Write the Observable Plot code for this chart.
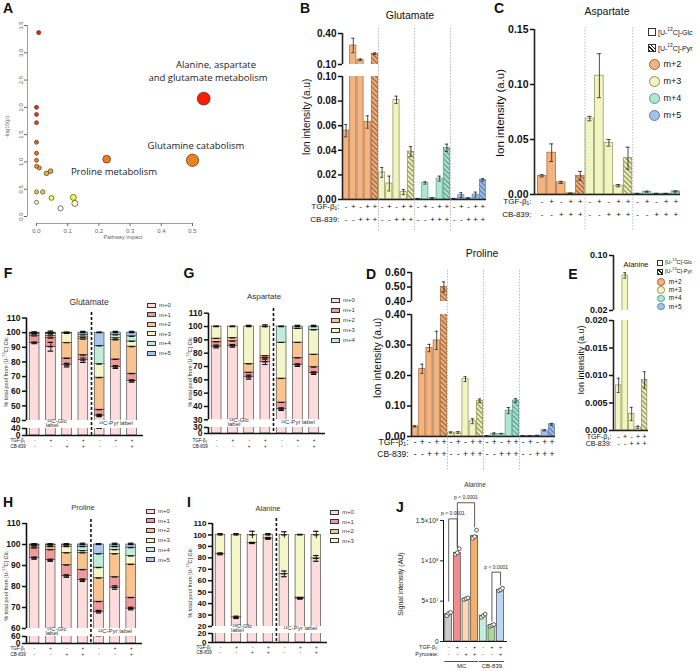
<!DOCTYPE html>
<html lang="en">
<head>
<meta charset="utf-8">
<title>Isotope tracing: glutamate, aspartate, proline and alanine</title>
<script src="https://cdn.jsdelivr.net/npm/d3@7"></script>
<script src="https://cdn.jsdelivr.net/npm/@observablehq/plot@0.6"></script>
<style>
  html, body { margin: 0; padding: 0; background: #fff; }
  #fig { position: relative; width: 700px; height: 671px; overflow: hidden; background: #fff;
         font-family: "Liberation Sans", Arial, sans-serif; color: #111; }
  #fig .t { position: absolute; white-space: nowrap; line-height: 1; }
  #fig .t sup, #fig .t sub { font-size: 0.68em; line-height: 0; }
  #fig .sw { position: absolute; box-sizing: border-box; }
  #fig svg.thick g[aria-label^="y-axis"] line,
  #fig svg.thick g[aria-label^="y-axis"] path { stroke-width: 1.5px; }
</style>
</head>
<body>
<div id="fig"></div>
<script>
// ---------------- data ----------------

// A: pathway analysis (impact vs -log10 p)
const pathwayImpact = [0.007, 0, 0, 0, 0, 0, 0, 0, 0.009, 0.032, 0.045, 0, 0.020, 0.048, 0, 0.077, 0.118, 0.123, 0.225, 0.500, 0.536];
const pathwayLogP   = [3.37, 2.00, 1.87, 1.72, 1.36, 1.16, 1.03, 0.92, 0.89, 0.79, 0.83, 0.45, 0.45, 0.34, 0.26, 0.15, 0.35, 0.24, 1.05, 1.03, 2.16];
const impactTicks = [0, 0.1, 0.2, 0.3, 0.4, 0.5];
const logPTicks = [0, 0.5, 1, 1.5, 2, 2.5, 3, 3.5];

// B–E: ion intensities; one row per isotopologue, one column per condition
const ionTGF    = ["-", "+", "-", "+", "+"];
const ionCB     = ["-", "-", "+", "+", "+"];
const ionTracer = ["Glc", "Glc", "Glc", "Glc", "Pyr"];

const glutamateIsos = ["m+2", "m+3", "m+4", "m+5"];
const glutamateIon = [
  [0.056, 0.284, 0.146, 0.063, 0.204],
  [0.022, 0.013, 0.081, 0.006, 0.039],
  [0.0006, 0.0135, 0.0012, 0.017, 0.042],
  [0.0006, 0.0035, 0.0010, 0.0040, 0.016]
];
const glutamateIonSd = [
  [0.005, 0.07, 0.008, 0.005, 0.008],
  [0.004, 0.006, 0.003, 0.002, 0.004],
  [0.0002, 0.001, 0.0003, 0.002, 0.003],
  [0.0002, 0.002, 0.0003, 0.002, 0.001]
];
const glutamateTicksLow = [0, 0.02, 0.04, 0.06, 0.08, 0.1];
const glutamateTicksHigh = [0.1, 0.4];

const aspartateIsos = ["m+2", "m+3", "m+4"];
const aspartateIon = [
  [0.017, 0.038, 0.011, 0.001, 0.017],
  [0.069, 0.108, 0.047, 0.008, 0.033],
  [0.0008, 0.0025, 0.0008, 0.0008, 0.0028]
];
const aspartateIonSd = [
  [0.001, 0.008, 0.001, 0.0003, 0.004],
  [0.002, 0.020, 0.003, 0.001, 0.010],
  [0.0002, 0.0005, 0.0002, 0.0002, 0.0005]
];
const aspartateTicks = [0, 0.05, 0.1, 0.15];

const prolineIsos = ["m+2", "m+3", "m+4", "m+5"];
const prolineIon = [
  [0.033, 0.222, 0.290, 0.315, 0.500],
  [0.013, 0.013, 0.188, 0.050, 0.117],
  [0.002, 0.009, 0.009, 0.085, 0.118],
  [0.002, 0.002, 0.003, 0.020, 0.040]
];
const prolineIonSd = [
  [0.002, 0.015, 0.012, 0.030, 0.035],
  [0.002, 0.003, 0.008, 0.008, 0.006],
  [0.001, 0.003, 0.001, 0.010, 0.006],
  [0.0005, 0.0005, 0.0005, 0.002, 0.003]
];
const prolineTicksLow = [0, 0.1, 0.2, 0.3, 0.4];
const prolineTicksHigh = [0.4, 0.5, 0.6];

const alanineIsos = ["m+3"];
const alanineIon = [[0.0082, 0.071, 0.0030, 0.0006, 0.0092]];
const alanineIonSd = [[0.0013, 0.004, 0.0012, 0.0002, 0.0015]];
const alanineTicksLow = [0, 0.005, 0.01, 0.015, 0.02];
const alanineTicksHigh = [0.02, 0.1];

// F–I: % of total pool per isotopologue (m+0 … m+5), seven conditions
const stackTGF = ["-", "+", "-", "+", "-", "+", "+"];
const stackCB  = ["-", "-", "+", "+", "-", "-", "+"];
const glcBars = [0, 1, 2, 3];
const pyrBars = [4, 5, 6];

const glutamateFrac = [
  [93.0, 90.4, 77.8, 81.2, 43.4, 76.5, 67.0],
  [4.7, 5.8, 4.6, 3.5, 4.0, 5.2, 5.0],
  [1.2, 1.5, 10.7, 10.8, 21.9, 13.3, 18.5],
  [0.6, 1.3, 6.4, 1.3, 9.2, 1.2, 3.5],
  [0.3, 0.6, 0.3, 1.6, 12.4, 2.2, 3.5],
  [0.2, 0.4, 0.2, 1.6, 9.1, 1.6, 2.5]
];
const glutamateErr0 = [0.6, 3.0, 1.2, 1.5, 0.8, 1.0, 0.8];
const glutamateErrTop = [0.5, 1.0, 0.4, 0.8, 0.3, 0.8, 0.8];
const glutamatePctTicks = [40, 50, 60, 70, 80, 90, 100, 110];

const aspartateFrac = [
  [85.0, 85.5, 62.0, 73.5, 38.0, 71.0, 65.0],
  [3.5, 3.5, 3.5, 3.0, 5.0, 5.5, 4.5],
  [2.5, 2.5, 6.5, 1.5, 18.0, 11.5, 9.5],
  [9.0, 8.5, 28.0, 22.0, 27.0, 10.5, 18.5],
  [0, 0, 0, 0, 12.0, 1.5, 2.5]
];
const aspartateErr0 = [1.0, 1.0, 1.5, 2.0, 1.0, 1.0, 1.0];
const aspartateErrTop = [0.4, 0.4, 0.8, 1.2, 0.3, 0.8, 0.8];
const aspartatePctTicks = [30, 40, 50, 60, 70, 80, 90, 100, 110];

const prolineFrac = [
  [93.5, 92.5, 85.0, 83.0, 68.0, 79.5, 69.5],
  [4.8, 5.0, 5.2, 5.0, 4.8, 5.0, 5.2],
  [0.9, 1.5, 5.8, 8.0, 11.2, 11.0, 15.8],
  [0.5, 0.7, 3.0, 1.0, 5.0, 2.0, 4.0],
  [0.2, 0.2, 0.7, 2.0, 6.5, 1.5, 4.0],
  [0.1, 0.1, 0.3, 1.0, 4.5, 1.0, 1.5]
];
const prolineErr0 = [0.5, 0.5, 0.6, 0.6, 0.6, 0.8, 0.6];
const prolineErrTop = [0.4, 0.4, 0.4, 0.6, 0.4, 0.6, 0.6];
const prolinePctTicks = [60, 70, 80, 90, 100, 110];

const alanineFrac = [
  [83.5, 28.0, 93.0, 97.0, 66.0, 44.5, 79.5],
  [0, 0, 0, 0, 0, 0.8, 0],
  [0, 0, 0, 0, 0, 0, 0],
  [16.5, 72.0, 7.0, 3.0, 34.0, 54.7, 20.5]
];
const alanineErr0 = [0.8, 1.0, 0.5, 0.8, 2.5, 0.6, 2.5];
const alanineErrTop = [1.2, 1.2, 3.2, 1.2, 2.8, 0.5, 3.2];
const alaninePctTicks = [20, 30, 40, 50, 60, 70, 80, 90, 100, 110];

// J: alanine signal intensity
const signalTGF = ["-", "+", "-", "+", "-", "+", "+"];
const signalPyruvate = ["-", "-", "+", "+", "-", "-", "+"];
const signalMean = [3.4e7, 1.10e8, 5.3e7, 1.31e8, 3.2e7, 2.0e7, 6.4e7];
const signalReps = [
  [3.2e7, 3.5e7, 3.6e7],
  [1.08e8, 1.10e8, 1.15e8],
  [5.2e7, 5.3e7, 5.4e7],
  [1.28e8, 1.30e8, 1.38e8],
  [3.0e7, 3.2e7, 3.4e7],
  [1.9e7, 2.0e7, 2.1e7],
  [6.3e7, 6.4e7, 6.6e7]
];
const signalTicks = [0, 5e7, 1e8, 1.5e8];
const signalGroups = [{name: "MC", from: 0, to: 3}, {name: "CB-839", from: 4, to: 6}];
const signalBrackets = [
  {from: 0, to: 1, top: 1.52e8, endFrom: 0.50e8, endTo: 1.17e8, p: "p < 0.0001"},
  {from: 1, to: 3, top: 1.72e8, endFrom: 1.17e8, endTo: 1.42e8, p: "p < 0.0001"},
  {from: 5, to: 6, top: 0.86e8, endFrom: 0.25e8, endTo: 0.70e8, p: "p < 0.0001"}
];

// ---------------- styles ----------------
const ionFill   = {"m+2": "#f5b47f", "m+3": "#f1f5c2", "m+4": "#ace8d4", "m+5": "#a2c2ea"};
const ionStroke = {"m+2": "#9c6438", "m+3": "#8a9152", "m+4": "#5c9a88", "m+5": "#5a7dab"};
const stackNames = ["m+0", "m+1", "m+2", "m+3", "m+4", "m+5"];
const stackPalette = ["#fcdcdc", "#ef9a9c", "#f8c38e", "#f4f6c8", "#c0edda", "#a8c7ee"];
const signalPalette = ["#c9c9c9", "#f28d8d", "#fbd9b8", "#f6ae68", "#c2efdc", "#a9d89b", "#bcd6f3"];
const FONT = "'Liberation Sans', Arial, sans-serif";

// ---------------- helpers ----------------
const W = 700, H = 671;
const fig = document.getElementById("fig");

// hatch patterns for the pyruvate-traced bars
const patternSvg = `<svg width="0" height="0" style="position:absolute;left:0;top:0"><defs>` +
  Object.keys(ionFill).map(k => `<pattern id="hatch-${k.replace("+", "")}" patternUnits="userSpaceOnUse" width="3.4" height="3.4" patternTransform="rotate(-45)">
     <rect width="3.4" height="3.4" fill="${ionFill[k]}"/>
     <line x1="0.8" y1="0" x2="0.8" y2="3.4" stroke="${ionStroke[k]}" stroke-width="1.3"/></pattern>`).join("") +
  `</defs></svg>`;
fig.insertAdjacentHTML("beforeend", patternSvg);

// every layer is a full-size transparent SVG; the frame margins place the panel
function layer(frame, spec, {css = "", cls = null} = {}) {
  const svg = Plot.plot({
    width: W, height: H,
    marginLeft: frame.l, marginRight: W - frame.r, marginTop: frame.t, marginBottom: H - frame.b,
    style: `background:transparent;overflow:visible;position:absolute;left:0;top:0;font-family:${FONT};` + css,
    ...spec
  });
  svg.classList.add("layer");
  if (cls) svg.classList.add(cls);
  fig.appendChild(svg);
  return svg;
}

function text(html, x, y, {size = 10, weight = "normal", rotate = 0, anchor = "middle", color = "#111", family = null} = {}) {
  const el = document.createElement("div");
  el.className = "t";
  el.innerHTML = html;
  const tx = anchor === "middle" ? "-50%" : anchor === "end" ? "-100%" : "0%";
  el.style.cssText = `left:${x}px;top:${y}px;font-size:${size}px;font-weight:${weight};color:${color};` +
    `transform:translate(${tx},-50%) rotate(${rotate}deg);` + (family ? `font-family:${family};` : "");
  fig.appendChild(el);
}

function box(x, y, w, h, background, border, radius = 0) {
  const el = document.createElement("div");
  el.className = "sw";
  el.style.cssText = `left:${x}px;top:${y}px;width:${w}px;height:${h}px;background:${background};border:${border};border-radius:${radius}px;`;
  fig.appendChild(el);
}

// ---------------- A: pathway impact ----------------
const pathways = pathwayImpact.map((impact, i) => ({impact, logp: pathwayLogP[i]}));
layer({l: 27, r: 215, t: 20, b: 223}, {
  x: {domain: [0, 0.5], range: [36, 192], ticks: impactTicks, tickFormat: d3.format(".1f"), tickSize: 3, tickPadding: 2, label: null},
  y: {domain: [0, 3.5], range: [216, 25], ticks: logPTicks, tickFormat: d3.format(".1f"), tickSize: 3, tickPadding: 2, tickRotate: -90, label: null},
  r: {type: "linear", domain: [0, 0.54], range: [2, 6.5]},
  color: {type: "linear", domain: [0.15, 0.26, 0.35, 0.45, 0.8, 1.05, 2.16], clamp: true,
          range: ["#ffffff", "#ffffc4", "#ffff2e", "#eed23a", "#f1ae2a", "#f07d18", "#ff1c00"]},
  marks: [
    Plot.ruleX([0], {y1: 0, y2: 3.5, dx: -9, stroke: "#777", strokeWidth: 0.7}),
    Plot.ruleY([0], {x1: 0, x2: 0.5, dy: 7, stroke: "#777", strokeWidth: 0.7}),
    Plot.dot(pathways, {x: "impact", y: "logp", r: "impact", fill: "logp", stroke: "#3a3a3a", strokeWidth: 0.7})
  ]
}, {css: "font-size:6px;color:#666;"});

text("A", 8, 8, {size: 14, weight: "bold"});
text("-log10(p)", 8, 127, {size: 5.5, rotate: -90, color: "#666"});
text("Pathway impact", 123, 238, {size: 5.5, color: "#666"});
const annot = {size: 9.5, color: "#222", family: "'Open Sans', sans-serif"};
text("Alanine, aspartate", 216, 65, annot);
text("and glutamate metabolism", 208, 77.5, annot);
text("Glutamine catabolism", 196, 146, annot);
text("Proline metabolism", 114, 172, annot);

// ---------------- B–E: ion intensity panels (broken y axes drawn as stacked segments) ----------------
function ionPanel({values, sds, isos, frame, xDomain, segments, separators = [], rowDy, rowSize, tickFont, rowDx = -3}) {
  const rows = [];
  values.forEach((vals, g) => vals.forEach((v, j) => rows.push({
    i: g * 5 + j, iso: isos[g], value: v, sd: sds[g][j], tracer: ionTracer[j], tgf: ionTGF[j], cb: ionCB[j]
  })));
  const [x0, x1] = xDomain;
  const ink = "#222";
  segments.forEach((s, si) => {
    const marks = [
      Plot.rect(rows, {
        x1: d => d.i - 0.5, x2: d => d.i + 0.5, y1: () => 0, y2: "value", clip: true,
        fill: d => d.tracer === "Pyr" ? `url(#hatch-${d.iso.replace("+", "")})` : ionFill[d.iso],
        stroke: d => ionStroke[d.iso], strokeWidth: 0.7, insetLeft: 0.5, insetRight: 0.5
      }),
      Plot.ruleX(rows, {x: "i", y1: d => Math.max(0, d.value - d.sd), y2: d => d.value + d.sd, stroke: ink, strokeWidth: 0.8, clip: true}),
      Plot.ruleY(rows, {y: d => d.value + d.sd, x1: d => d.i - 0.22, x2: d => d.i + 0.22, stroke: ink, strokeWidth: 0.8, clip: true}),
      Plot.ruleY(rows, {y: d => Math.max(0, d.value - d.sd), x1: d => d.i - 0.22, x2: d => d.i + 0.22, stroke: ink, strokeWidth: 0.8, clip: true}),
      Plot.ruleX([s.domain], {x: () => x0, y1: d => d[0], y2: d => d[1], stroke: ink, strokeWidth: 1.6})
    ];
    if (si === 0) marks.push(Plot.ruleY([0], {x1: () => x0, x2: () => x1, stroke: ink, strokeWidth: 1.6}));
    layer({l: frame.l, r: frame.r, t: s.range[1], b: s.range[0]}, {
      x: {domain: xDomain, axis: null},
      y: {domain: s.domain, ticks: s.ticks, tickFormat: s.format, tickSize: 4, tickPadding: 2, label: null},
      color: {type: "identity"},
      marks
    }, {css: `font-size:${tickFont}px;font-weight:bold;color:#111;`, cls: "thick"});
  });
  layer(frame, {
    x: {domain: xDomain, axis: null},
    marks: [
      Plot.ruleX(separators, {stroke: "#a8a8a8", strokeWidth: 0.8, strokeDasharray: "1.5 1.5"}),
      Plot.text(rows, {x: "i", text: "tgf", frameAnchor: "bottom", dy: rowDy[0], fontSize: rowSize}),
      Plot.text(rows, {x: "i", text: "cb", frameAnchor: "bottom", dy: rowDy[1], fontSize: rowSize}),
      Plot.text(["TGF-β₁:"], {x: () => x0, frameAnchor: "bottom", dy: rowDy[0], dx: rowDx, textAnchor: "end", fontSize: rowSize}),
      Plot.text(["CB-839:"], {x: () => x0, frameAnchor: "bottom", dy: rowDy[1], dx: rowDx, textAnchor: "end", fontSize: rowSize})
    ]
  }, {css: "color:#111;"});
}

const f2 = d3.format(".2f"), f3 = d3.format(".3f");
ionPanel({
  values: glutamateIon, sds: glutamateIonSd, isos: glutamateIsos,
  frame: {l: 342, r: 486, t: 28, b: 230}, xDomain: [-0.5, 19.5],
  segments: [
    {domain: [0, 0.1], range: [199, 76], ticks: glutamateTicksLow, format: f2},
    {domain: [0.1, 0.4], range: [64, 33], ticks: glutamateTicksHigh, format: f2}
  ],
  separators: [4.5, 9.5, 14.5], rowDy: [-22, -9], rowSize: 8, tickFont: 10
});
ionPanel({
  values: aspartateIon, sds: aspartateIonSd, isos: aspartateIsos,
  frame: {l: 534, r: 680, t: 27, b: 230}, xDomain: [-0.8, 14.5],
  segments: [{domain: [0, 0.15], range: [194, 29], ticks: aspartateTicks, format: f2}],
  separators: [4.5, 9.5], rowDy: [-27, -14], rowSize: 8, tickFont: 10.5
});
ionPanel({
  values: prolineIon, sds: prolineIonSd, isos: prolineIsos,
  frame: {l: 411, r: 555, t: 270, b: 470}, xDomain: [-0.5, 19.5],
  segments: [
    {domain: [0, 0.4], range: [436, 314], ticks: prolineTicksLow, format: f2},
    {domain: [0.4, 0.6], range: [301, 272], ticks: prolineTicksHigh, format: f2}
  ],
  separators: [4.5, 9.5, 14.5], rowDy: [-26, -14], rowSize: 8.5, tickFont: 10.5
});
ionPanel({
  values: alanineIon, sds: alanineIonSd, isos: alanineIsos,
  frame: {l: 613, r: 648, t: 255, b: 430}, xDomain: [-0.8, 4.6],
  segments: [
    {domain: [0, 0.02], range: [430, 320], ticks: alanineTicksLow, format: f3},
    {domain: [0.02, 0.1], range: [310, 255], ticks: alanineTicksHigh, format: f2}
  ],
  rowDy: [8, 15], rowSize: 7, tickFont: 9, rowDx: -2
});

text("B", 305, 8, {size: 14, weight: "bold"});
text("Glutamate", 410, 15, {size: 10.5});
text("Ion intensity (a.u)", 307, 117, {size: 10, rotate: -90});
text("C", 499, 8, {size: 14, weight: "bold"});
text("Aspartate", 607, 11, {size: 10.5});
text("Ion intensity (a.u)", 501, 113, {size: 11.5, rotate: -90});
text("D", 371, 274, {size: 14, weight: "bold"});
text("Proline", 482, 253, {size: 10.5});
text("Ion intensity (a.u)", 377, 358, {size: 10.5, rotate: -90});
text("E", 573, 274, {size: 14, weight: "bold"});
text("Alanine", 636, 265, {size: 7.5});
text("Ion intensity (a.u)", 581, 360, {size: 9, rotate: -90});

// tracer / isotopologue legends for C and E
function tracerLegend({x, yGlc, yPyr, sq, labelSize, cx, cr, cy0, cstep, isoSize}) {
  box(x, yGlc - sq / 2, sq, sq, "#fff", "0.8px solid #333");
  text("[U-<sup>13</sup>C]-Glc", x + sq + 2, yGlc, {size: labelSize, anchor: "start"});
  box(x, yPyr - sq / 2, sq, sq, "repeating-linear-gradient(45deg, #111 0 1.1px, #fff 1.1px 2.6px)", "0.8px solid #333");
  text("[U-<sup>13</sup>C]-Pyr", x + sq + 2, yPyr, {size: labelSize, anchor: "start"});
  Object.keys(ionFill).forEach((k, i) => {
    const cy = cy0 + i * cstep;
    box(cx - cr, cy - cr, 2 * cr, 2 * cr, ionFill[k], `0.7px solid ${ionStroke[k]}`, cr);
    text(k, cx + cr + 4, cy, {size: isoSize, anchor: "start"});
  });
}
tracerLegend({x: 648, yGlc: 32, yPyr: 48, sq: 8, labelSize: 7, cx: 654, cr: 5.5, cy0: 64, cstep: 17, isoSize: 9});
tracerLegend({x: 657, yGlc: 263, yPyr: 272, sq: 6, labelSize: 5.5, cx: 661, cr: 3.8, cy0: 282, cstep: 8.2, isoSize: 6.5});

// ---------------- F–I: stacked isotopologue fractions ----------------
function stackPanel({fractions, err0, errTop, frame, lower, upper, upperTicks, tickFont}) {
  const xDomain = [-0.5, 6.7];
  const [x0, x1] = xDomain;
  const names = stackNames.slice(0, fractions.length);
  const rows = [], bars = [];
  for (let k = 0; k < fractions[0].length; k++) {
    let cum = 0;
    fractions.forEach((f, m) => { rows.push({k, iso: names[m], y1: cum, y2: cum + f[k]}); cum += f[k]; });
    bars.push({k, m0: fractions[0][k], err: err0[k], top: cum, errTop: errTop[k], tgf: stackTGF[k], cb: stackCB[k]});
  }
  const ink = "#111";
  const brkBottom = lower.range[1], brkTop = upper.range[0];
  const segments = [
    {domain: [0, lower.top], range: lower.range, ticks: [0, lower.top]},
    {domain: [lower.top, 110], range: upper.range, ticks: upperTicks}
  ];
  const cap = (y) => Plot.ruleY(bars, {y, x1: d => d.k - 0.17, x2: d => d.k + 0.17, stroke: ink, strokeWidth: 1.2, clip: true});
  segments.forEach((s, si) => {
    const marks = [
      Plot.rect(rows, {x1: d => d.k - 0.3, x2: d => d.k + 0.3, y1: "y1", y2: "y2", fill: "iso", stroke: "#333", strokeWidth: 0.6, clip: true}),
      Plot.ruleY(rows.filter(d => d.y2 > d.y1), {y: "y2", x1: d => d.k - 0.17, x2: d => d.k + 0.17, stroke: ink, strokeWidth: 1.2, clip: true}),
      Plot.ruleX(bars, {x: "k", y1: d => d.m0 - d.err, y2: d => d.m0 + d.err, stroke: ink, strokeWidth: 0.9, clip: true}),
      cap(d => d.m0 - d.err), cap(d => d.m0 + d.err),
      Plot.ruleX(bars, {x: "k", y1: d => d.top - d.errTop, y2: d => d.top + d.errTop, stroke: ink, strokeWidth: 0.9}),
      cap(d => d.top + d.errTop),
      Plot.ruleX([s.domain], {x: () => x0, y1: d => d[0], y2: d => d[1], stroke: ink, strokeWidth: 1.6})
    ];
    if (si === 0) marks.push(Plot.ruleY([0], {x1: () => x0, x2: () => x1, stroke: ink, strokeWidth: 1.6}));
    layer({l: frame.l, r: frame.r, t: s.range[1], b: s.range[0]}, {
      x: {domain: xDomain, axis: null},
      y: {domain: s.domain, ticks: s.ticks, tickFormat: d => String(Math.round(d)), tickSize: 4, tickPadding: 2, label: null},
      color: {type: "ordinal", domain: stackNames, range: stackPalette},
      marks
    }, {css: `font-size:${tickFont}px;font-weight:bold;color:#111;`, cls: "thick"});
  });
  // separator, tracer labels in the axis break, condition rows
  const bandDy = (brkBottom + brkTop) / 2 - frame.b;
  const glcCenter = d3.mean(glcBars), pyrCenter = d3.mean(pyrBars);
  layer(frame, {
    x: {domain: xDomain, axis: null},
    marks: [
      Plot.ruleX([3.5], {stroke: ink, strokeWidth: 1.6, strokeDasharray: "3 2"}),
      Plot.text(["¹³C-Glc"], {x: () => glcCenter, frameAnchor: "bottom", dx: -2, dy: bandDy - 1.8, fontSize: 6, fill: "#333"}),
      Plot.text(["label"], {x: () => glcCenter, frameAnchor: "bottom", dx: -7, dy: bandDy + 2.2, fontSize: 6, fill: "#333"}),
      Plot.text(["¹³C-Pyr label"], {x: () => pyrCenter, frameAnchor: "bottom", dy: bandDy, fontSize: 6, fill: "#333"}),
      Plot.text(bars, {x: "k", text: "tgf", frameAnchor: "bottom", dy: frame.rowDy[0], fontSize: 4.5}),
      Plot.text(bars, {x: "k", text: "cb", frameAnchor: "bottom", dy: frame.rowDy[1], fontSize: 4.5}),
      Plot.text(["TGF-β₁"], {x: () => x0, frameAnchor: "bottom", dy: frame.rowDy[0], dx: -16, textAnchor: "start", fontSize: 4.5}),
      Plot.text(["CB-839"], {x: () => x0, frameAnchor: "bottom", dy: frame.rowDy[1], dx: -16, textAnchor: "start", fontSize: 4.5})
    ]
  }, {css: "color:#111;"});
}

function stackLegend(count, x, y0, step) {
  for (let i = 0; i < count; i++) {
    const y = y0 + i * step;
    box(x, y - 2.5, 9, 5, stackPalette[i], "0.8px solid #333");
    text(stackNames[i], x + 12, y, {size: 6, anchor: "start", color: "#333"});
  }
}

stackPanel({
  fractions: glutamateFrac, err0: glutamateErr0, errTop: glutamateErrTop,
  frame: {l: 26, r: 143, t: 312, b: 435, rowDy: [6, 12]},
  lower: {top: 40, range: [435, 428]}, upper: {range: [420, 317.5]}, upperTicks: glutamatePctTicks, tickFont: 8.5
});
stackPanel({
  fractions: aspartateFrac, err0: aspartateErr0, errTop: aspartateErrTop,
  frame: {l: 208, r: 325, t: 308, b: 433, rowDy: [8, 14]},
  lower: {top: 30, range: [433, 427]}, upper: {range: [419.3, 312.7]}, upperTicks: aspartatePctTicks, tickFont: 8.5
});
stackPanel({
  fractions: prolineFrac, err0: prolineErr0, errTop: prolineErrTop,
  frame: {l: 26, r: 142, t: 519, b: 643, rowDy: [6, 12]},
  lower: {top: 60, range: [643, 636]}, upper: {range: [628, 523]}, upperTicks: prolinePctTicks, tickFont: 8.5
});
stackPanel({
  fractions: alanineFrac, err0: alanineErr0, errTop: alanineErrTop,
  frame: {l: 212, r: 327, t: 518, b: 642, rowDy: [6, 11]},
  lower: {top: 20, range: [642, 633]}, upper: {range: [626, 523]}, upperTicks: alaninePctTicks, tickFont: 8
});

const poolLabel = "% total pool from [U-<sup>13</sup>C] Glc";
text("F", 8, 273, {size: 14, weight: "bold"});
text("Glutamate", 89, 302, {size: 8.5, color: "#333"});
text(poolLabel, 7, 372, {size: 5.5, rotate: -90, color: "#333"});
stackLegend(6, 147, 305, 9.6);
text("G", 189, 273, {size: 14, weight: "bold"});
text("Aspartate", 264, 297, {size: 8, color: "#333"});
text(poolLabel, 191, 372, {size: 5.5, rotate: -90, color: "#333"});
stackLegend(5, 331, 300, 10);
text("H", 8, 502, {size: 14, weight: "bold"});
text("Proline", 83, 508, {size: 7.5, color: "#333"});
text(poolLabel, 7, 586, {size: 5.5, rotate: -90, color: "#333"});
stackLegend(6, 146, 511, 9.7);
text("I", 189, 502, {size: 14, weight: "bold"});
text("Alanine", 268, 509, {size: 7.5, color: "#333"});
text(poolLabel, 191, 583, {size: 5.5, rotate: -90, color: "#333"});
stackLegend(4, 330, 512, 9.6);

// ---------------- J: alanine signal intensity ----------------
const signalBars = signalMean.map((mean, k) => ({k, id: `bar${k}`, mean, tgf: signalTGF[k], pyr: signalPyruvate[k]}));
const signalDots = signalReps.flatMap((reps, k) => reps.map((v, j) => ({k, j, v})));
const bracketPath = signalBrackets.flatMap((b, n) => [
  {n, x: b.from, y: b.endFrom}, {n, x: b.from, y: b.top}, {n, x: b.to, y: b.top}, {n, x: b.to, y: b.endTo}
]);
const sciFormat = v => {
  if (v === 0) return "0";
  const e = Math.floor(Math.log10(v));
  const sup = String(e).split("").map(c => "⁰¹²³⁴⁵⁶⁷⁸⁹"[+c]).join("");
  return `${+(v / 10 ** e).toFixed(1)}×10${sup}`;
};
{
  const x0 = -0.6, x1 = 6.8;
  layer({l: 443, r: 507, t: 490, b: 641}, {
    x: {domain: [x0, x1], axis: null},
    y: {domain: [0, 1.5e8], range: [641, 520], ticks: signalTicks, tickFormat: sciFormat, tickSize: 3, tickPadding: 2, label: null},
    color: {type: "ordinal", domain: signalBars.map(d => d.id), range: signalPalette},
    marks: [
      Plot.rect(signalBars, {x1: d => d.k - 0.4, x2: d => d.k + 0.4, y1: () => 0, y2: "mean", fill: "id", stroke: "#444", strokeWidth: 0.7}),
      Plot.dot(signalDots, {x: d => d.k + (d.j - 1) * 0.22, y: "v", r: 1.9, fill: "white", stroke: "#333", strokeWidth: 0.8}),
      Plot.line(bracketPath, {x: "x", y: "y", z: "n", stroke: "#333", strokeWidth: 0.8}),
      Plot.text(signalBrackets, {x: d => (d.from + d.to) / 2, y: "top", dy: -5, text: "p", fontSize: 5}),
      Plot.ruleY([0], {x1: () => x0, x2: () => x1, stroke: "#111", strokeWidth: 1}),
      Plot.ruleX([x0], {y1: 0, y2: 1.5e8, stroke: "#111", strokeWidth: 1}),
      Plot.text(signalBars, {x: "k", text: "tgf", frameAnchor: "bottom", dy: 7.5, fontSize: 5.5}),
      Plot.text(signalBars, {x: "k", text: "pyr", frameAnchor: "bottom", dy: 14, fontSize: 5.5}),
      Plot.text(["TGF-β₁:"], {x: () => x0, frameAnchor: "bottom", dy: 7.5, dx: -5, textAnchor: "end", fontSize: 5.5}),
      Plot.text(["Pyruvate:"], {x: () => x0, frameAnchor: "bottom", dy: 14, dx: -5, textAnchor: "end", fontSize: 5.5}),
      Plot.ruleY(signalGroups, {y: () => 0, x1: d => d.from - 0.45, x2: d => d.to + 0.45, dy: 20, stroke: "#222", strokeWidth: 0.8}),
      Plot.text(signalGroups, {x: d => (d.from + d.to) / 2, text: "name", frameAnchor: "bottom", dy: 26, fontSize: 6})
    ]
  }, {css: "font-size:6.5px;color:#222;"});
}
text("J", 400, 507, {size: 14, weight: "bold"});
text("Alanine", 475, 485, {size: 6.5, color: "#333"});
text("Signal intensity (AU)", 400, 584, {size: 7, rotate: -90, color: "#222"});
</script>
</body>
</html>
